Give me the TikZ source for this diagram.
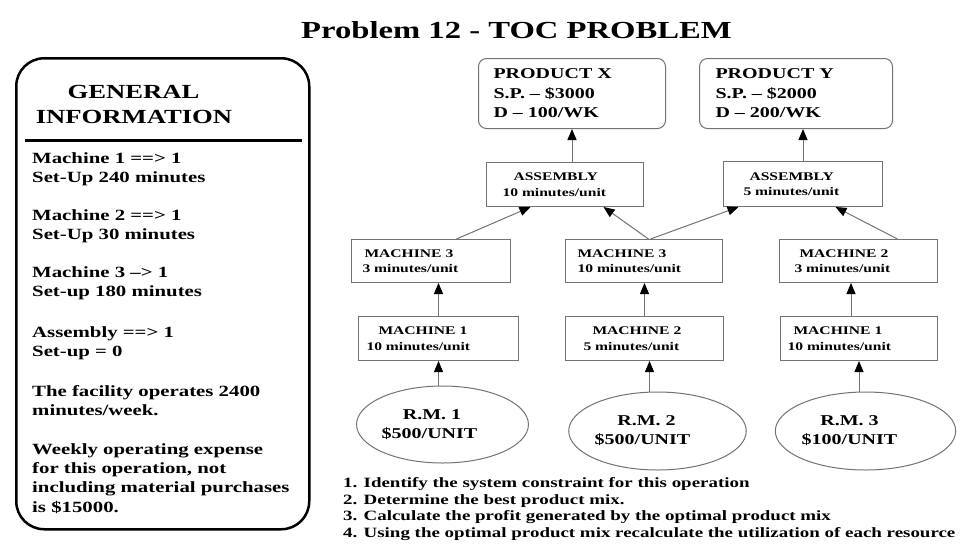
\documentclass[tikz,border=0pt]{standalone}
\usepackage{fontspec}
\setmainfont{Liberation Serif}[FakeStretch=1.333]
\usetikzlibrary{arrows.meta,shapes.geometric}
\definecolor{linec}{gray}{0.45}
\begin{document}
\begin{tikzpicture}[x=1pt,y=-1pt,
  every node/.style={inner sep=0pt,font=\bfseries},
  arr/.style={draw=linec,line width=1pt,-{Triangle[length=11pt,width=9pt,color=black]}},
  mbox/.style={draw=linec,line width=1pt,anchor=north west,align=left,inner ysep=0pt,
    font=\bfseries\fontsize{11.7}{15.5}\selectfont},
  pbox/.style={mbox,rounded corners=8pt,font=\bfseries\fontsize{15}{19.5}\selectfont},
  rm/.style={draw=linec,line width=1pt,ellipse,align=center,
    font=\bfseries\fontsize{15}{19}\selectfont},
  info/.style={anchor=north west,align=left,font=\bfseries\fontsize{15.6}{18.7}\selectfont},
  head/.style={anchor=base,font=\bfseries\fontsize{20}{24}\selectfont}]
\useasboundingbox (0,0) rectangle (972,547);
\fill[white] (0,0) rectangle (972,547);

% title
\node[anchor=base,font=\bfseries\fontsize{24.5}{28}\selectfont] (title) at (516.5,38) {Problem 12 - TOC PROBLEM};

% general information box
\node[draw=black,line width=2.5pt,rounded corners=28pt,anchor=north west,
  minimum width=293pt,minimum height=471pt] (infobox) at (15,57) {};
\node[head] (gen) at (133.5,98) {GENERAL};
\node[head] (infot) at (134,123) {INFORMATION};
\draw[line width=3pt] (25,140) -- (302,140);
\node[info] (p1) at (32,152.3) {Machine 1 ==> 1\\Set-Up 240 minutes};
\node[info] (p2) at (32,209.3) {Machine 2 ==> 1\\Set-Up 30 minutes};
\node[info] (p3) at (32,266.3) {Machine 3 --> 1\\Set-up 180 minutes};
\node[info] (p4) at (32,326.3) {Assembly ==> 1\\Set-up = 0};
\node[info] (p5) at (32,385.3) {The facility operates 2400\\minutes/week.};
\node[info,font=\bfseries\fontsize{15.6}{19.3}\selectfont] (p6) at (32,443.3)
  {Weekly operating expense\\for this operation, not\\including material purchases\\is \$15000.};

% products
\node[pbox,minimum width=187pt,minimum height=70pt,text width=157pt,inner xsep=15pt] (px) at (478,58)
  {PRODUCT X\\S.P. – \$3000\\D – 100/WK};
\node[pbox,minimum width=193pt,minimum height=70pt,text width=161pt,inner xsep=16pt] (py) at (699,58)
  {PRODUCT Y\\S.P. – \$2000\\D – 200/WK};

% assemblies
\node[mbox,minimum width=157pt,minimum height=44pt,text width=125pt,inner xsep=16pt] (ax) at (486,162)
  {\hspace*{11pt}ASSEMBLY\\10 minutes/unit};
\node[mbox,minimum width=159pt,minimum height=45pt,text width=119pt,inner xsep=20pt] (ay) at (723,161)
  {\hspace*{6pt}ASSEMBLY\\5 minutes/unit};

% upper machines
\node[mbox,minimum width=159pt,minimum height=43pt,text width=137pt,inner xsep=11pt] (m3l) at (351,239)
  {\hspace*{2pt}MACHINE 3\\3 minutes/unit};
\node[mbox,minimum width=157pt,minimum height=43pt,text width=133pt,inner xsep=12pt] (m3m) at (565,239)
  {MACHINE 3\\10 minutes/unit};
\node[mbox,minimum width=158pt,minimum height=43pt,text width=128pt,inner xsep=15pt] (m2r) at (779,239)
  {\hspace*{5pt}MACHINE 2\\3 minutes/unit};

% lower machines
\node[mbox,minimum width=160pt,minimum height=44pt,text width=144pt,inner xsep=8pt] (m1l) at (358,316)
  {\hspace*{12pt}MACHINE 1\\10 minutes/unit};
\node[mbox,minimum width=158pt,minimum height=44pt,text width=122pt,inner xsep=18pt] (m2m) at (565,316)
  {\hspace*{9pt}MACHINE 2\\5 minutes/unit};
\node[mbox,minimum width=157pt,minimum height=44pt,text width=143pt,inner xsep=7pt] (m1r) at (780,316)
  {\hspace*{6pt}MACHINE 1\\10 minutes/unit};

% raw materials
\node[rm,minimum width=135pt,minimum height=77pt] (rm1) at (442.5,424.5)
  {R.M. 1\hspace*{21pt}\\\$500/UNIT\hspace*{26pt}};
\node[rm,minimum width=139pt,minimum height=78pt] (rm2) at (657.5,431)
  {R.M. 2\hspace*{22pt}\\\$500/UNIT\hspace*{30pt}};
\node[rm,minimum width=143pt,minimum height=78pt] (rm3) at (865.5,431)
  {R.M. 3\hspace*{32pt}\\\$100/UNIT\hspace*{32pt}};

% questions
\node[anchor=north west,align=left,font=\bfseries\fontsize{14.2}{16.7}\selectfont] (qs) at (343,477.2)
  {1. Identify the system constraint for this operation\\
   2. Determine the best product mix.\\
   3. Calculate the profit generated by the optimal product mix\\
   4. Using the optimal product mix recalculate the utilization of each resource};

% connectors
\coordinate (c2) at ([xshift=5pt]m2m.south);
\coordinate (c3) at ([xshift=-8pt]m1r.north);
\draw[arr] (m1l.south |- rm1.north) -- (m1l.south);
\draw[arr] (c2 |- rm2.north) -- (c2);
\draw[arr] (m1r.south |- rm3.north) -- (m1r.south);
\draw[arr] (m1l.north) -- (m1l.north |- m3l.south);
\draw[arr] (m2m.north) -- (m2m.north |- m3m.south);
\draw[arr] (c3) -- (c3 |- m2r.south);
\draw[arr] ([xshift=25.5pt]m3l.north) -- ([xshift=-34.5pt]ax.south);
\draw[arr] ([xshift=4.5pt]m3m.north) -- ([xshift=38.5pt]ax.south);
\draw[arr] ([xshift=6.5pt]m3m.north) -- ([xshift=-64.5pt]ay.south);
\draw[arr] ([xshift=39pt]m2r.north) -- ([xshift=32.5pt]ay.south);
\draw[arr] (px.south |- ax.north) -- (px.south);
\draw[arr] (ay.north) -- (ay.north |- py.south);
\end{tikzpicture}
\end{document}
